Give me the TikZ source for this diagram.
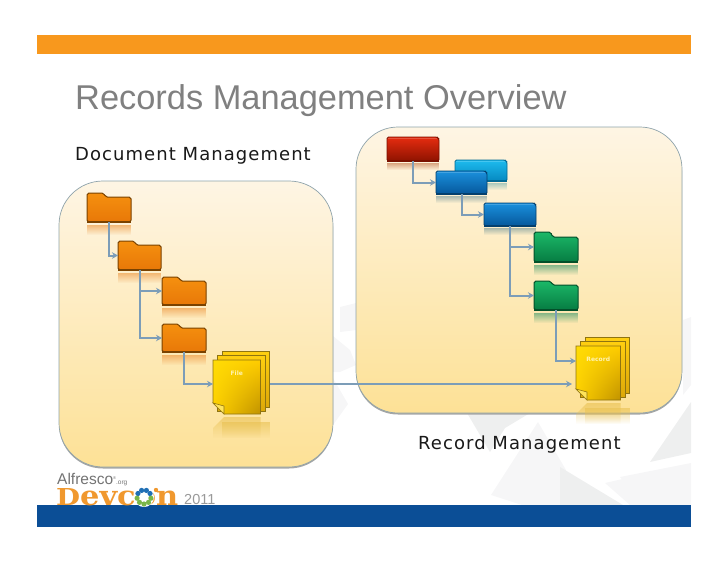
\documentclass[tikz,border=0pt]{standalone}
\usepackage{fontspec}
\usepackage{graphicx}
\setmainfont{Liberation Sans}
\newfontfamily\lucidish[LetterSpace=5.9]{DejaVu Sans}
\newfontfamily\labelfont{DejaVu Sans}
\newfontfamily\slab{DejaVu Serif}
\usetikzlibrary{fadings,shadings,arrows.meta,calc}
\tikzfading[name=fadedn, top color=transparent!40, bottom color=transparent!100]
\definecolor{bandorange}{HTML}{F8981D}
\definecolor{bandblue}{HTML}{0B4E96}
\definecolor{conn}{HTML}{7C9DB8}
\definecolor{wm}{HTML}{F6F6F7}
\definecolor{wmd}{HTML}{EEEFEF}
\tikzset{
  hit/.style={inner sep=0pt,outer sep=0pt},
  conline/.style={draw=conn,line width=2pt,-{Stealth[length=6pt,width=6.5pt]}},
  longline/.style={draw=conn,line width=1.3pt,-{Stealth[length=6pt,width=6.5pt]}},
  heading/.style={anchor=base west,inner sep=0pt,font=\lucidish\fontsize{18}{20}\selectfont,text=black!90},
  sheet/.style={draw=docline,line width=.6pt},
  refl/.style={path fading=fadedn,draw=none},
}
\definecolor{panelline}{HTML}{8FA3AB}
\definecolor{docline}{HTML}{8F7410}
\definecolor{orT}{HTML}{F5900F}\definecolor{orB}{HTML}{E87808}\definecolor{orL}{HTML}{7A4200}
\definecolor{grT}{HTML}{1CB868}\definecolor{grB}{HTML}{067C42}\definecolor{grL}{HTML}{03502A}
\definecolor{reT}{HTML}{E62C10}\definecolor{reB}{HTML}{8E1300}\definecolor{reL}{HTML}{7A1000}
\definecolor{blT}{HTML}{1B90DC}\definecolor{blB}{HTML}{05589C}\definecolor{blL}{HTML}{04406E}
\definecolor{cyT}{HTML}{1DBBEE}\definecolor{cyB}{HTML}{0688C0}\definecolor{cyL}{HTML}{046A94}
% name x1 x2 ytab ybody ybot colourprefix
\newcommand\folderbox[7]{%
  \pgfmathsetmacro\bw{#3-#2}\pgfmathsetmacro\ta{#2+0.38*\bw}\pgfmathsetmacro\tb{#2+0.42*\bw}%
  \pgfmathsetmacro\cx{(#2+#3)/2}\pgfmathsetmacro\cy{(#4+#6)/2}\pgfmathsetmacro\bh{#6-#4}%
  \fill[#7B!80!white,refl] (#2,#6+3) rectangle (#3,#6+13);
  \draw[rounded corners=1.8pt,top color=#7T,bottom color=#7B,draw=#7L,line width=1pt]
    (#2,#6) -- (#2,#4) -- (\ta,#4) -- (\tb,#5) -- (#3,#5) -- (#3,#6) -- cycle;
  \draw[#7L,line width=1.4pt] (#2,#6) -- (#3,#6);
  \node[hit,minimum width=\bw pt,minimum height=\bh pt] (#1) at (\cx,\cy) {};
}
% name x1 x2 y1 y2 colourprefix
\newcommand\blockbox[6]{%
  \pgfmathsetmacro\bw{#3-#2}\pgfmathsetmacro\bh{#5-#4}%
  \pgfmathsetmacro\cx{(#2+#3)/2}\pgfmathsetmacro\cy{(#4+#5)/2}%
  \fill[#6B!55!panelbot,refl] (#2,#5+2) rectangle (#3,#5+9);
  \draw[rounded corners=1.5pt,top color=#6T,bottom color=#6B,draw=#6L,line width=.8pt]
    (#2,#4) -- (#3-2,#4) -- (#3,#4+2) -- (#3,#5) -- (#2,#5) -- cycle;
  \draw[#6L,line width=1.1pt] (#2,#5) -- (#3,#5);
  \draw[#6T!70!white,line width=.8pt,opacity=.6] (#2+1,#4+1.5) -- (#3-2,#4+1.5);
  \node[hit,minimum width=\bw pt,minimum height=\bh pt] (#1) at (\cx,\cy) {};
}
% name x y w h label
\newcommand\docstack[6]{%
  \pgfmathsetmacro\yb{#3+#5}\pgfmathsetmacro\xe{#2+#4}%
  \fill[docrefl,refl] (#2+9,\yb+8) rectangle (\xe+9,\yb+24);
  \fill[docrefl,refl] (#2,\yb+14) -- (#2+11,\yb+3) -- (\xe,\yb+3) -- (\xe,\yb+24) -- (#2,\yb+24) -- cycle;
  \draw[sheet,top color=sa,bottom color=sb] (#2+9,#3-9) rectangle (\xe+9,\yb-7);
  \draw[sheet,top color=sa,bottom color=sb] (#2+4.5,#3-5) rectangle (\xe+4.5,\yb-3);
  \draw[sheet,upper left=docfa,lower left=docfb,upper right=docfc,lower right=docfd]
    (#2,#3) -- (\xe,#3) -- (\xe,\yb) -- (#2+11,\yb) -- (#2,\yb-11) -- cycle;
  \draw[sheet,fill=docfe] (#2,\yb-11) -- (#2+11,\yb-8) -- (#2+11,\yb) -- cycle;
  \node[hit,font=\labelfont\bfseries\fontsize{6}{7}\selectfont,text=docft] at (#2+#4/2,#3+13) {#6};
  \pgfmathsetmacro\bw{#4+9}\pgfmathsetmacro\bh{#5+9}%
  \pgfmathsetmacro\cx{#2+\bw/2}\pgfmathsetmacro\cy{#3-9+\bh/2}%
  \node[hit,minimum width=\bw pt,minimum height=\bh pt] (#1) at (\cx,\cy) {};
}
\definecolor{sa}{HTML}{FFCF10}\definecolor{sb}{HTML}{DDA808}
\definecolor{docfa}{HTML}{FFDC05}\definecolor{docfb}{HTML}{FFD000}
\definecolor{docfc}{HTML}{FFCC00}\definecolor{docfd}{HTML}{C09200}
\definecolor{docfe}{HTML}{FFE45A}\definecolor{docft}{HTML}{FFF3B0}
\definecolor{docrefl}{HTML}{E8C050}
\definecolor{paneltop}{HTML}{FEF5E4}\definecolor{panelbot}{HTML}{FDE196}
\definecolor{logoor}{HTML}{F0982E}
\begin{document}
\begin{tikzpicture}[x=1pt,y=-1pt]
\useasboundingbox (0,0) rectangle (728,563);
% watermark
\fill[wm] (340,307) -- (356,303) -- (356,330) -- (340,332) -- cycle;
\fill[wm] (333,336) -- (350,350) -- (356,365) -- (340,372) -- (333,372) -- cycle;
\fill[wm] (333,378) -- (348,404) -- (333,425) -- cycle;
\fill[wm] (683,320) -- (691,317) -- (691,385) -- (683,395) -- cycle;
\fill[wmd] (650,462) -- (691,402) -- (691,453) -- cycle;
\fill[wm] (620,477) -- (691,463) -- (691,505) -- (643,505) -- cycle;
\fill[wmd] (467,413) -- (530,413) -- (505,428) -- (490,452) -- cycle;
\fill[wm] (538,422) -- (491,495) -- (522,505) -- (566,505) -- (566,470) -- cycle;
\fill[wmd] (560,467) -- (623,505) -- (560,505) -- cycle;
\fill[wm] (605,483) -- (640,475) -- (650,505) -- (630,505) -- cycle;
% bands
\fill[bandorange] (37,35) rectangle (691,54);
\fill[bandblue] (37,505) rectangle (691,527);
% texts
\node[anchor=base west,inner sep=0pt,font=\fontsize{34.4}{38}\selectfont,text=black!50] (title) at (75,109) {Records Management Overview};
\node[heading] (dm) at (75,160) {Document Management};
\node[heading] (rm) at (418,449) {Record Management};
% panels
\fill[black!35,rounded corners=44pt] (59,182.5) rectangle (333,468.5);
\shade[top color=paneltop,bottom color=panelbot,rounded corners=44pt,draw=panelline,line width=.7pt] (59,181) rectangle (333,467);
\fill[black!35,rounded corners=42pt] (356,128.5) rectangle (682,414.5);
\shade[top color=paneltop,bottom color=panelbot,rounded corners=42pt,draw=panelline,line width=.7pt] (356,127) rectangle (682,413);
% left tree
\folderbox{fa}{87}{131}{193}{197}{222}{or}
\folderbox{fb}{118}{161}{241}{245}{270}{or}
\folderbox{fc}{162}{206}{277}{281}{305}{or}
\folderbox{fd}{162}{206}{324}{328}{352}{or}
\docstack{file}{213}{360}{47.5}{54}{File}
% right tree
\blockbox{rd}{387}{439}{137}{161}{re}
\blockbox{cy}{455}{507}{160}{181}{cy}
\blockbox{ba}{436}{487}{171}{194}{bl}
\blockbox{bb}{484}{536}{203}{226}{bl}
\folderbox{ga}{534}{578}{232}{237}{262}{gr}
\folderbox{gb}{534}{578}{281}{285}{310}{gr}
\docstack{rec}{576}{346}{44.5}{54}{Record}
% connectors
\draw[conline] (fa.south) |- (fb.west);
\draw[conline] (fb.south) |- (fc.west);
\draw[conline] (fb.south) |- (fd.west);
\draw[conline] (fd.south) |- ([yshift=-1.5pt]file.west);
\draw[longline,shorten >=4pt] ([yshift=-1.5pt]file.east) -- ([yshift=-15.5pt]rec.west);
\draw[conline] (rd.south) |- (ba.west);
\draw[conline] (ba.south) |- (bb.west);
\draw[conline] (bb.south) |- (ga.west);
\draw[conline] (bb.south) |- (gb.west);
\draw[conline] (gb.south) |- ([yshift=7.5pt]rec.west);
% logo
\node[anchor=base west,inner sep=0pt,font=\fontsize{15.5}{16}\selectfont,text=black!55] (alf) at (57,484) {Alfresco{\fontsize{4}{4}\selectfont\raisebox{5pt}{®}}{\fontsize{6.5}{7}\selectfont .org}};
\node[anchor=base west,inner sep=0pt,text=logoor] (dev) at (56,505.5) {\slab\bfseries\resizebox{24pt}{17pt}{D}\resizebox{98pt}{14.5pt}{evcon}};
\coordinate (gearc) at (144,497);
\fill[white] (gearc) circle (10);
\foreach \a/\c in {-150/1F6FB5,-110/1F6FB5,-70/1F6FB5,-30/1F6FB5,10/7AB648,50/7AB648,90/7AB648,130/7AB648,170/7AB648}{
  \definecolor{gearcol}{HTML}{\c}
  \fill[gearcol] ($(gearc)+(\a:7)$) circle (2.6);
}
\fill[logoor] (156,490) circle (2.2);
\node[anchor=base west,inner sep=0pt,font=\fontsize{14.5}{15}\selectfont,text=black!40] (yr) at (184,504) {2011};
\end{tikzpicture}
\end{document}
